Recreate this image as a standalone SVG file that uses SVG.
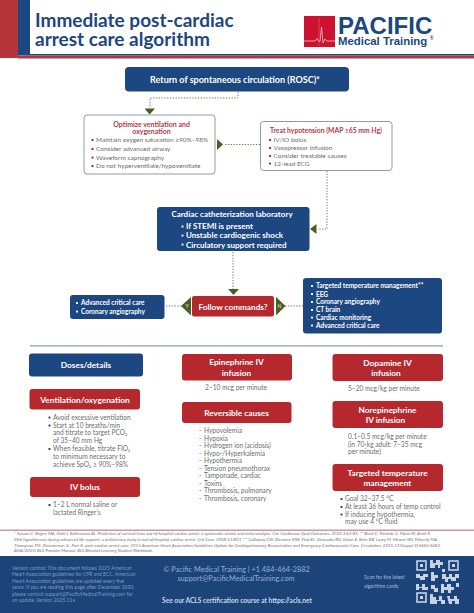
<svg xmlns="http://www.w3.org/2000/svg" width="474" height="613" viewBox="0 0 474 613">
<style>
text{font-family:Lato,"Open Sans","Liberation Sans",sans-serif}
.navy{fill:#1d4780}.red{fill:#b5282e}
.box{fill:#fff;stroke:#8f9ca8;stroke-width:1}
.conn{fill:none;stroke:#6f7a5c;stroke-width:1;stroke-dasharray:1.3 1.5}
.arr{fill:#4b5d23}
.h{fill:#fff;font-weight:700;font-size:8.3px;text-anchor:middle}
.hb{fill:#fff;font-weight:700;font-size:6.5px}
.w{fill:#fff;font-weight:700;font-size:8px}
.rh{fill:#b23a48;font-weight:700;font-size:7px}
.t{fill:#6a6e72;font-size:6.5px}
.d{fill:#6a6e72;font-size:6.6px}
.bul{fill:#a3212c}
.nb{fill:#1d4780}
.wb{fill:#fff}
.fn{fill:#6c7078;font-size:3.6px;font-style:italic}
.f1{fill:#7c9ac4;font-size:5px}
.f2{fill:#93afd4;font-size:7.3px}
.f3{fill:#c9d7ea;font-size:6.6px;font-weight:700}
.f4{fill:#a5bcdc;font-size:5.1px}
.logo{font-family:"Liberation Sans",sans-serif;font-weight:700;fill:#1d4780}
</style>
<defs><g id="bullet"><rect x="-1" y="-1" width="2" height="2" rx=".6"/></g></defs>
<rect width="474" height="613" fill="#fff"/>
<g id="header">
<rect x="0" y="0" width="18" height="58" fill="#b5343a"/>
<rect x="18" y="0" width="12" height="55" class="navy"/>
<rect x="18" y="54" width="456" height="1.5" class="navy"/>
<rect x="18" y="55.5" width="456" height="3" fill="#a83a42"/>
<text font-size="19" font-weight="700" fill="#1d4780"><tspan x="35" y="27">Immediate post-cardiac</tspan><tspan x="35" y="45.5">arrest care algorithm</tspan></text>
</g>
<g id="logo">
<rect x="304" y="16" width="31" height="31" fill="#cc1230"/>
<path d="M304 41H315L317 38.5L318.5 41L320 41.5L321.5 27L323 43L325 39L327 41H335" fill="none" stroke="#f4c4c8" stroke-width=".8"/>
<path d="M319 18V46" stroke="#e88" stroke-width=".4"/>
<text class="logo"><tspan x="338" y="33.5" font-size="24">PACIFIC</tspan><tspan x="338" y="44.5" font-size="11.4">Medical Training</tspan><tspan x="430" y="40" font-size="4.5">®</tspan></text>
</g>
<g id="connectors">
<path class="conn" d="M238 92V98H150V108"/>
<path class="conn" d="M260 144.5H224"/>
<path class="conn" d="M327 171V229H318"/>
<path class="conn" d="M233 252V290"/>
<path class="conn" d="M166 306H181"/>
<path class="conn" d="M285 306H303"/>
<path class="arr" d="M144.5 108.5H155L149.7 114.5Z"/>
<path class="arr" d="M217 139V150L223 144.5Z"/>
<path class="arr" d="M310 229L316.5 224V234Z"/>
<path class="arr" d="M228 289H239L233.5 295Z"/>
</g>
<g id="rosc">
<rect x="125" y="67" width="224" height="24.5" rx="4" class="navy"/>
<text x="235" y="83" class="h" style="font-size:9px">Return of spontaneous circulation (ROSC)*</text>
</g>
<g id="optimize">
<rect x="84" y="115" width="131" height="59" rx="3" class="box"/>
<text x="151.5" y="126.5" class="rh" text-anchor="middle">Optimize ventilation and</text>
<text x="151.5" y="134" class="rh" text-anchor="middle">oxygenation</text>
<use href="#bullet" x="92.5" y="140" class="bul"/><text x="96" y="142" class="t">Maintain oxygen saturation ≥90%–98%</text>
<use href="#bullet" x="92.5" y="149" class="bul"/><text x="96" y="151" class="t">Consider advanced airway</text>
<use href="#bullet" x="92.5" y="157.5" class="bul"/><text x="96" y="159.5" class="t">Waveform capnography</text>
<use href="#bullet" x="92.5" y="166" class="bul"/><text x="96" y="168" class="t">Do not hyperventilate/hypoventilate</text>
</g>
<g id="hypotension">
<rect x="260.5" y="121.5" width="131.5" height="49" rx="3" class="box"/>
<text x="326" y="133" class="rh" text-anchor="middle" style="font-size:6.8px">Treat hypotension (MAP ≥65 mm Hg)</text>
<use href="#bullet" x="270" y="140" class="bul"/><text x="273.5" y="142" class="t">IV/IO bolus</text>
<use href="#bullet" x="270" y="148" class="bul"/><text x="273.5" y="150" class="t">Vasopressor infusion</text>
<use href="#bullet" x="270" y="156" class="bul"/><text x="273.5" y="158" class="t">Consider treatable causes</text>
<use href="#bullet" x="270" y="163.5" class="bul"/><text x="273.5" y="165.5" class="t">12-lead ECG</text>
</g>
<g id="cath">
<rect x="157" y="207" width="152.5" height="44" rx="3" class="navy"/>
<text x="232" y="217" class="h" style="font-size:8px">Cardiac catheterization laboratory</text>
<use href="#bullet" x="182.5" y="226.5" class="wb"/><text x="186" y="229" class="w">If STEMI is present</text>
<use href="#bullet" x="182.5" y="235.5" class="wb"/><text x="186" y="238" class="w">Unstable cardiogenic shock</text>
<use href="#bullet" x="182.5" y="244.5" class="wb"/><text x="186" y="247.5" class="w">Circulatory support required</text>
</g>
<g id="follow">
<rect x="192" y="296" width="82" height="20.5" rx="2" class="red"/>
<text x="233" y="309.5" class="h" style="font-size:8.2px">Follow commands?</text>
</g>
<g id="yes">
<path class="arr" d="M181 306L191 297V315.5Z"/>
<text x="187" y="308" font-size="5" font-weight="700" fill="#c7cfae" text-anchor="middle">Y</text>
</g>
<g id="no">
<path class="arr" d="M276 297L285.5 306L276 315.5Z"/>
<text x="279.5" y="308" font-size="5" font-weight="700" fill="#c7cfae" text-anchor="middle">N</text>
</g>
<g id="critical">
<rect x="70" y="295" width="94.5" height="24" rx="3" class="navy"/>
<use href="#bullet" x="77" y="303" class="wb"/><text x="81" y="305" class="hb">Advanced critical care</text>
<use href="#bullet" x="77" y="311.5" class="wb"/><text x="81" y="314" class="hb">Coronary angiography</text>
</g>
<g id="nolist">
<rect x="303" y="278" width="139" height="55.5" rx="3" class="navy"/>
<use href="#bullet" x="312" y="286" class="wb"/><text x="316" y="288" class="hb">Targeted temperature management**</text>
<use href="#bullet" x="312" y="294" class="wb"/><text x="316" y="296.5" class="hb">EEG</text>
<use href="#bullet" x="312" y="302" class="wb"/><text x="316" y="304" class="hb">Coronary angiography</text>
<use href="#bullet" x="312" y="310" class="wb"/><text x="316" y="312" class="hb">CT brain</text>
<use href="#bullet" x="312" y="317.5" class="wb"/><text x="316" y="319.5" class="hb">Cardiac monitoring</text>
<use href="#bullet" x="312" y="325.5" class="wb"/><text x="316" y="327.5" class="hb">Advanced critical care</text>
</g>
<rect x="30" y="345" width="413" height="1.6" fill="#a9b3bd"/>
<g id="doses"><rect x="29" y="353.5" width="114" height="23" rx="3" class="navy"/><text x="86" y="368" class="h">Doses/details</text></g>
<g id="ventilation">
<rect x="29.5" y="389" width="110.5" height="20.5" rx="3" class="red"/><text x="85" y="402.5" class="h">Ventilation/oxygenation</text>
<use href="#bullet" x="49.5" y="417.5" class="nb"/><text x="53" y="419.5" class="d">Avoid excessive ventilation</text>
<use href="#bullet" x="49.5" y="425.5" class="nb"/><text x="53" y="427.5" class="d">Start at 10 breaths/min</text>
<text x="53" y="435" class="d">and titrate to target PCO₂</text>
<text x="53" y="443" class="d">of 35–40 mm Hg</text>
<use href="#bullet" x="49.5" y="449" class="nb"/><text x="53" y="451" class="d">When feasible, titrate FIO₂</text>
<text x="53" y="459" class="d">to minimum necessary to</text>
<text x="53" y="467" class="d">achieve SpO₂ ≥ 90%–98%</text>
</g>
<g id="bolus">
<rect x="30" y="477" width="110" height="20" rx="3" class="red"/><text x="85" y="490" class="h">IV bolus</text>
<use href="#bullet" x="49.5" y="505" class="nb"/><text x="53" y="507" class="d">1–2 L normal saline or</text>
<text x="53" y="515" class="d">lactated Ringer’s</text>
</g>
<g id="epinephrine">
<rect x="182" y="354" width="110" height="26.5" rx="3" class="red"/>
<text x="236.5" y="365" class="h">Epinephrine IV</text><text x="236.5" y="375.5" class="h">infusion</text>
<text x="236" y="390" class="d" text-anchor="middle">2–10 mcg per minute</text>
</g>
<g id="reversible">
<rect x="182" y="402" width="109.5" height="21" rx="3" class="red"/><text x="236.5" y="415.5" class="h">Reversible causes</text>
<g class="d">
<text x="199" y="433" class="d">-</text><text x="204" y="433" class="d">Hypovolemia</text>
<text x="199" y="440.5" class="d">-</text><text x="204" y="440.5" class="d">Hypoxia</text>
<text x="199" y="448" class="d">-</text><text x="204" y="448" class="d">Hydrogen ion (acidosis)</text>
<text x="199" y="455.5" class="d">-</text><text x="204" y="455.5" class="d">Hypo-/Hyperkalemia</text>
<text x="199" y="463" class="d">-</text><text x="204" y="463" class="d">Hypothermia</text>
<text x="199" y="470.5" class="d">-</text><text x="204" y="470.5" class="d">Tension pneumothorax</text>
<text x="199" y="478" class="d">-</text><text x="204" y="478" class="d">Tamponade, cardiac</text>
<text x="199" y="485.5" class="d">-</text><text x="204" y="485.5" class="d">Toxins</text>
<text x="199" y="493" class="d">-</text><text x="204" y="493" class="d">Thrombosis, pulmonary</text>
<text x="199" y="500.5" class="d">-</text><text x="204" y="500.5" class="d">Thrombosis, coronary</text>
</g>
</g>
<g id="dopamine">
<rect x="332.5" y="354" width="110.5" height="27" rx="3" class="red"/>
<text x="387.5" y="365.5" class="h">Dopamine IV</text><text x="386" y="375.5" class="h">infusion</text>
<text x="348" y="391" class="d">5–20 mcg/kg per minute</text>
</g>
<g id="norepinephrine">
<rect x="332.5" y="401" width="110.5" height="27" rx="3" class="red"/>
<text x="387.5" y="412.5" class="h">Norepinephrine</text><text x="385.5" y="422.5" class="h">IV infusion</text>
<text x="348" y="439" class="d">0.1–0.5 mcg/kg per minute</text>
<text x="348" y="446.5" class="d">(in 70-kg adult: 7–35 mcg</text>
<text x="348" y="454" class="d">per minute)</text>
</g>
<g id="ttm">
<rect x="332.5" y="464" width="110.5" height="27" rx="3" class="red"/>
<text x="387.5" y="475.5" class="h">Targeted temperature</text><text x="387.5" y="485.5" class="h">management</text>
<use href="#bullet" x="341.5" y="499" class="nb"/><text x="345" y="501" class="d">Goal 32–37.5 °C</text>
<use href="#bullet" x="341.5" y="507" class="nb"/><text x="345" y="509" class="d">At least 36 hours of temp control</text>
<use href="#bullet" x="341.5" y="514.5" class="nb"/><text x="345" y="516.5" class="d">If inducing hypothermia,</text>
<text x="345" y="524" class="d">may use 4 °C fluid</text>
</g>
<rect x="0" y="529.5" width="474" height="1.5" fill="#c99ca0"/>
<g id="footnotes">
<text x="14" y="535" class="fn" textLength="417" lengthAdjust="spacingAndGlyphs">* Sasson C, Rogers MA, Dahl J, Kellermann AL. Predictors of survival from out-of-hospital cardiac arrest: a systematic review and meta-analysis. Circ Cardiovasc Qual Outcomes. 2010;3:63-81.  ** Bruel C, Parienti JJ, Marie W, Arrot X,</text>
<text x="14" y="540.5" class="fn" textLength="424" lengthAdjust="spacingAndGlyphs">Mild hypothermia during advanced life support: a preliminary study in out-of-hospital cardiac arrest. Crit Care. 2008;12:R31  *** Callaway CW, Donnino MW, Fink EL, Geocadin RG, Golan E, Kern KB, Leary M, Meurer WJ, Peberdy MA,</text>
<text x="14" y="546.5" class="fn" textLength="427" lengthAdjust="spacingAndGlyphs">Thompson TM, Zimmerman JL. Part 8: post-cardiac arrest care: 2015 American Heart Association Guidelines Update for Cardiopulmonary Resuscitation and Emergency Cardiovascular Care. Circulation. 2015;132(suppl 2):S465-S482.</text>
<text x="14" y="552" class="fn" textLength="139" lengthAdjust="spacingAndGlyphs">AHA (2025) BLS Provider Manual. BLS Blended Learning Student Workbook.</text>
</g>
<g id="footer">
<rect x="0" y="556" width="474" height="57" fill="#1d4479"/>
<text x="12" y="569.5" class="f1">Version control: This document follows 2025 American</text>
<text x="12" y="576" class="f1">Heart Association guidelines for CPR and ECC. American</text>
<text x="12" y="582.5" class="f1">Heart Association guidelines are updated every five</text>
<text x="12" y="589" class="f1">years. If you are reading this page after December 2030,</text>
<text x="12" y="595.5" class="f1">please contact support@PacificMedicalTraining.com for</text>
<text x="12" y="602" class="f1">an update. Version 2025.11a</text>
<text x="236.5" y="572" class="f2" text-anchor="middle">© Pacific Medical Training | +1 484-464-2882</text>
<text x="236" y="581" class="f2" text-anchor="middle">support@PacificMedicalTraining.com</text>
<text x="237" y="602.5" class="f3" text-anchor="middle">See our ACLS certification course at https://acls.net</text>
<text x="364" y="579" class="f4">Scan for the latest</text>
<text x="364" y="587.5" class="f4">algorithm cards</text>
</g>
<g id="qr" fill="none" stroke="#c6d3e4">
<rect x="417" y="561" width="9" height="9" stroke-width="1.6"/><rect x="449" y="561" width="9" height="9" stroke-width="1.6"/><rect x="417" y="593" width="9" height="9" stroke-width="1.6"/>
<g fill="#c6d3e4" stroke="none">
<rect x="420" y="564" width="3" height="3"/><rect x="452" y="564" width="3" height="3"/><rect x="420" y="596" width="3" height="3"/>
<path d="M430 560h3v3h3v-3h4v2h3v3h-3v3h-2v-3h-3v3h-5zM445 569h-3v3h3zM416 574h4v2h3v-2h5v3h-3v3h-5v-2h-4zM431 572h3v3h4v3h-3v3h-4zM442 574h4v3h3v-3h3v3h3v-3h4v4h-3v3h-5v-2h-3v3h-3v-3h-3zM416 584h3v3h3v-3h3v3h3v3h-6v-2h-3v2h-3zM431 585h4v3h3v4h-4v-3h-3zM441 584h3v3h3v-3h4v3h3v3h-3v3h-3v-3h-4v3h-3zM456 583h3v4h-3zM430 594h3v3h3v3h3v-4h3v4h3v4h-4v-3h-4v3h-7zM447 596h3v3h4v-3h3v3h2v5h-4v-3h-3v3h-3z"/>
</g>
</g>
</svg>
